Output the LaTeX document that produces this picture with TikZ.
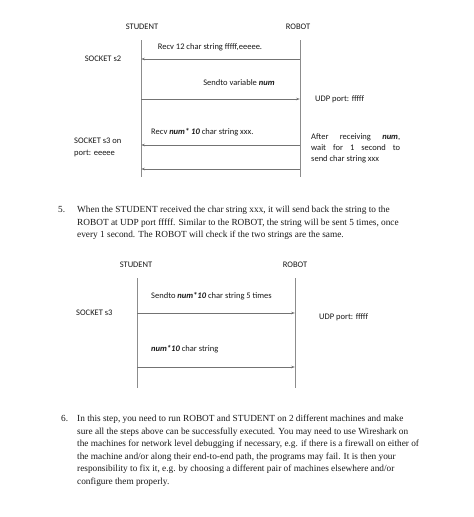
\documentclass[tikz,border=0pt]{standalone}
\usepackage{fontspec}
\setmainfont{Liberation Serif}
\newfontfamily\lbl{Carlito}
\usetikzlibrary{arrows.meta}
\begin{document}
\begin{tikzpicture}[x=1pt,y=-1pt]
\tikzstyle{every node}=[inner sep=0pt,text=black!90]
\tikzstyle{tag}=[font=\lbl\fontsize{8.5}{11}\selectfont]
\tikzstyle{para}=[font=\fontsize{9.3}{12.5}\selectfont,align=left,anchor=north west]
\tikzstyle{life}=[draw=black!45,line width=0.6pt]
\tikzstyle{msg}=[draw=black!55,line width=0.8pt,-{Stealth[length=4pt,width=2.6pt]}]
\useasboundingbox[fill=white] (0,0) rectangle (474,517);
% first chart
\node[tag](stu1) at (142,27) {STUDENT};
\node[tag](rob1) at (298,27) {ROBOT};
\coordinate (s1top) at (141,40);
\coordinate (s1bot) at (141,177);
\coordinate (r1top) at (300,40);
\coordinate (r1bot) at (300,177);
\draw[life] (s1top) -- (s1bot);
\draw[life] (r1top) -- (r1bot);
\coordinate (s1a) at (141,59);
\coordinate (r1a) at (300,59);
\coordinate (s1b) at (141,99);
\coordinate (r1b) at (300,99);
\coordinate (s1c) at (141,145);
\coordinate (r1c) at (300,145);
\coordinate (s1d) at (141,169);
\coordinate (r1d) at (300,169);
\draw[msg] (r1a) -- (s1a);
\draw[msg] (s1b) -- (r1b);
\draw[msg] (r1c) -- (s1c);
\draw[msg] (r1d) -- (s1d);
\node[tag](m1) at (210,47) {Recv 12 char string fffff,eeeee.};
\node[tag](m2) at (239,83) {Sendto variable \textbf{\textit{num}}};
\node[tag,anchor=west](m3) at (151,132) {Recv \textbf{\textit{num* 10}} char string xxx.};
\node[tag](sock2) at (103,59) {SOCKET s2};
\node[tag,anchor=west](port1) at (315,99) {UDP port: fffff};
\node[tag,anchor=west](sock3a) at (74,141) {SOCKET s3 on};
\node[tag,anchor=west](sock3b) at (74,153) {port: eeeee};
\node[tag,anchor=north west,text width=89pt,align=justify](wait) at (311,133)
  {After receiving \textbf{\textit{num}},\linebreak wait for 1 second to\linebreak send char string xxx};
% step 5
\node[para](n5) at (58,206) {5.};
\node[para](p5) at (77,206) {When the STUDENT received the char string xxx, it will send back the string to the\\ROBOT at UDP port fffff. Similar to the ROBOT, the string will be sent 5 times, once\\every 1 second. The ROBOT will check if the two strings are the same.};
% second chart
\node[tag](stu2) at (136,265) {STUDENT};
\node[tag](rob2) at (295,265) {ROBOT};
\coordinate (s2top) at (137,278);
\coordinate (s2bot) at (137,388);
\coordinate (r2top) at (295,278);
\coordinate (r2bot) at (295,388);
\draw[life] (s2top) -- (s2bot);
\draw[life] (r2top) -- (r2bot);
\coordinate (s2a) at (137,313);
\coordinate (r2a) at (295,313);
\coordinate (s2b) at (137,367);
\coordinate (r2b) at (295,367);
\draw[msg] (s2a) -- (r2a);
\draw[msg] (s2b) -- (r2b);
\node[tag,anchor=west](m4) at (151,296) {Sendto \textbf{\textit{num*10}} char string 5 times};
\node[tag,anchor=west](m5) at (151,349) {\textbf{\textit{num*10}} char string};
\node[tag,anchor=west](sock4) at (76,313) {SOCKET s3};
\node[tag,anchor=west](port2) at (319,317) {UDP port: fffff};
% step 6
\node[para](n6) at (61,415) {6.};
\node[para](p6) at (77,415) {In this step, you need to run ROBOT and STUDENT on 2 different machines and make\\sure all the steps above can be successfully executed. You may need to use Wireshark on\\the machines for network level debugging if necessary, e.g. if there is a firewall on either of\\the machine and/or along their end-to-end path, the programs may fail. It is then your\\responsibility to fix it, e.g. by choosing a different pair of machines elsewhere and/or\\configure them properly.};
\end{tikzpicture}
\end{document}
